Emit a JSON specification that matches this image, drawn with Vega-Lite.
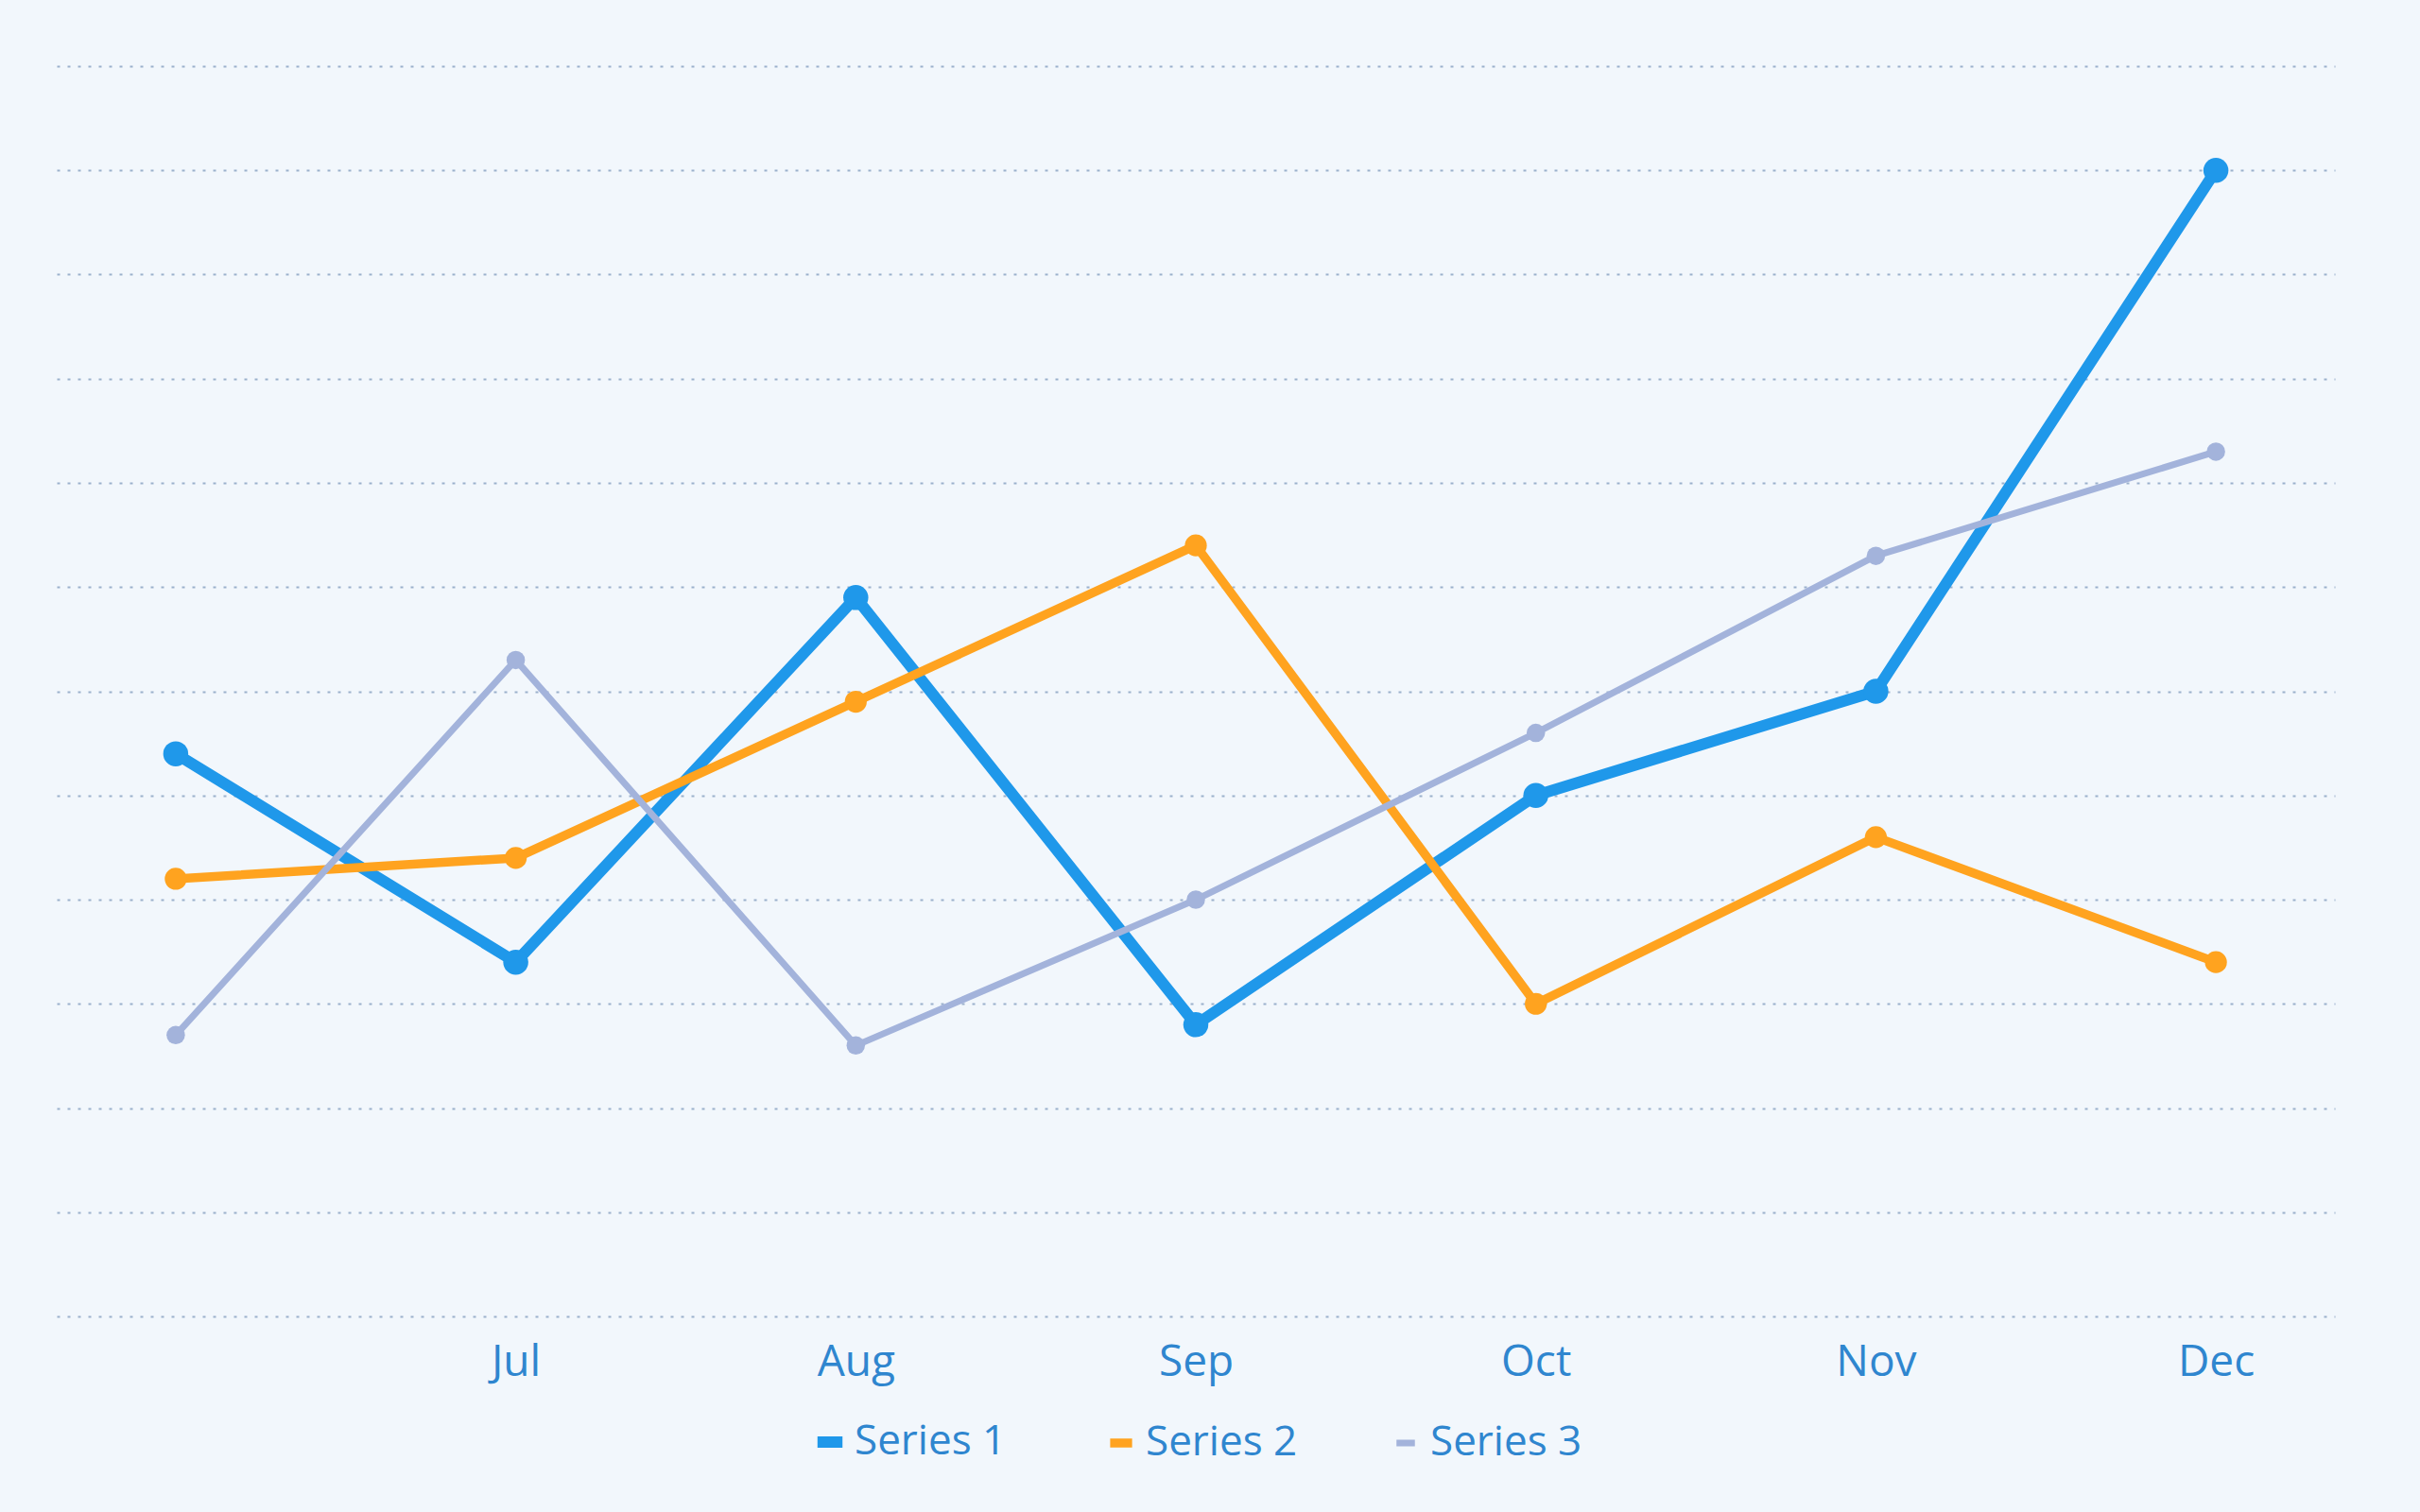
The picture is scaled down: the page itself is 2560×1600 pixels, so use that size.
{
  "$schema": "https://vega.github.io/schema/vega-lite/v6.json",
  "width": 2560,
  "height": 1600,
  "autosize": {"type": "fit", "contains": "padding"},
  "padding": {"left": 60, "right": 90, "top": 70, "bottom": 50},
  "background": "#f2f7fc",
  "config": {
    "view": {"stroke": null},
    "font": "Open Sans",
    "legend": {"layout": {"bottom": {"anchor": "middle"}}}
  },
  "data": {
    "values": [
      {"month": "Jun", "series": "Series 1", "value": 5.4},
      {"month": "Jul", "series": "Series 1", "value": 3.4},
      {"month": "Aug", "series": "Series 1", "value": 6.9},
      {"month": "Sep", "series": "Series 1", "value": 2.8},
      {"month": "Oct", "series": "Series 1", "value": 5.0},
      {"month": "Nov", "series": "Series 1", "value": 6.0},
      {"month": "Dec", "series": "Series 1", "value": 11.0},
      {"month": "Jun", "series": "Series 2", "value": 4.2},
      {"month": "Jul", "series": "Series 2", "value": 4.4},
      {"month": "Aug", "series": "Series 2", "value": 5.9},
      {"month": "Sep", "series": "Series 2", "value": 7.4},
      {"month": "Oct", "series": "Series 2", "value": 3.0},
      {"month": "Nov", "series": "Series 2", "value": 4.6},
      {"month": "Dec", "series": "Series 2", "value": 3.4},
      {"month": "Jun", "series": "Series 3", "value": 2.7},
      {"month": "Jul", "series": "Series 3", "value": 6.3},
      {"month": "Aug", "series": "Series 3", "value": 2.6},
      {"month": "Sep", "series": "Series 3", "value": 4.0},
      {"month": "Oct", "series": "Series 3", "value": 5.6},
      {"month": "Nov", "series": "Series 3", "value": 7.3},
      {"month": "Dec", "series": "Series 3", "value": 8.3}
    ]
  },
  "encoding": {
    "x": {
      "field": "month",
      "type": "ordinal",
      "sort": ["Jun", "Jul", "Aug", "Sep", "Oct", "Nov", "Dec"],
      "scale": {"type": "point", "padding": 0.35},
      "axis": {
        "title": null,
        "values": ["Jul", "Aug", "Sep", "Oct", "Nov", "Dec"],
        "labelAngle": 0,
        "labelFontSize": 46,
        "labelColor": "#2f86cf",
        "labelPadding": 26,
        "ticks": false,
        "domain": false,
        "grid": false
      }
    },
    "y": {
      "field": "value",
      "type": "quantitative",
      "scale": {"domain": [0, 12]},
      "axis": {
        "title": null,
        "labels": false,
        "ticks": false,
        "domain": false,
        "values": [0, 1, 2, 3, 4, 5, 6, 7, 8, 9, 10, 11, 12],
        "gridDash": [3, 8],
        "gridColor": "#9bb1cc",
        "gridWidth": 2
      }
    },
    "color": {
      "field": "series",
      "type": "nominal",
      "scale": {
        "domain": ["Series 1", "Series 2", "Series 3"],
        "range": ["#1f98ea", "#ffa31f", "#a3b3db"]
      },
      "legend": {
        "title": null,
        "orient": "bottom",
        "direction": "horizontal",
        "symbolType": "stroke",
        "symbolStrokeWidth": 7,
        "symbolSize": 6400,
        "labelFontSize": 44,
        "labelLimit": 0,
        "labelColor": "#2f86cf",
        "columnPadding": 90,
        "offset": 40
      }
    }
  },
  "layer": [
    {
      "mark": {"type": "line", "strokeCap": "round", "strokeJoin": "round"},
      "encoding": {
        "strokeWidth": {
          "field": "series",
          "type": "ordinal",
          "scale": {"domain": ["Series 1", "Series 2", "Series 3"], "range": [12, 7, 4]},
          "legend": null
        }
      }
    },
    {
      "mark": {"type": "point", "filled": true, "opacity": 1},
      "encoding": {
        "size": {
          "field": "series",
          "type": "ordinal",
          "scale": {"domain": ["Series 1", "Series 2", "Series 3"], "range": [700, 380, 220]},
          "legend": null
        }
      }
    }
  ]
}
